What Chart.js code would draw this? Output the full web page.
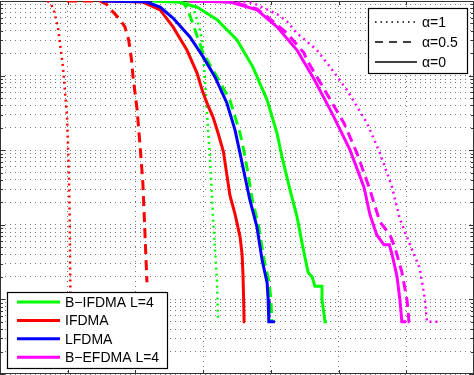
<!DOCTYPE html>
<html><head><meta charset="utf-8">
<script src="https://cdn.jsdelivr.net/npm/chart.js@4"></script>
<style>html,body{margin:0;padding:0;background:#fff}#wrap{position:relative;width:474px;height:375px}</style>
</head><body><div id="wrap"><canvas id="c"></canvas></div>
<script>
// ---- tick values ----
const xTicks = [0, 2, 4, 6, 8, 10, 12, 14];
const yDecades = [1e-5, 1e-4, 1e-3, 1e-2, 1e-1, 1];
// ---- labels ----
const seriesNames = ['B\u2212IFDMA L=4', 'IFDMA', 'LFDMA', 'B\u2212EFDMA L=4'];
const alphaLabels = ['\u03b1=1', '\u03b1=0.5', '\u03b1=0'];

// ---- series values: [PAPR (dB), CCDF] ----
const bifdmaA1 = [[5.35,1],[5.55,0.95],[5.70,0.83],[5.85,0.51],[5.97,0.30],[6.03,0.13],[6.11,0.035],[6.20,0.0081],[6.29,0.0013],[6.41,0.00017],[6.44,0.00005]];
const bifdmaA05 = [[5.3,1],[5.45,0.9],[5.55,0.76],[5.76,0.41],[6.00,0.2],[6.2,0.14],[6.41,0.096],[6.79,0.047],[7.09,0.017],[7.24,0.0081],[7.45,0.0022],[7.65,0.0009],[7.8,0.00034],[7.95,0.00017],[8.0,0.0001],[8.03,0.00005]];
const bifdmaA0 = [[4.5,1],[5.3,0.96],[5.82,0.83],[6.41,0.56],[7.00,0.30],[7.47,0.13],[7.89,0.047],[8.18,0.017],[8.33,0.0081],[8.57,0.0029],[8.77,0.0013],[8.95,0.00049],[9.10,0.00023],[9.22,0.0002],[9.30,0.00015],[9.51,0.00015],[9.51,0.0001],[9.60,0.00005],[9.66,0.00005]];

const ifdmaA1 = [[1.40,1],[1.50,0.93],[1.60,0.72],[1.71,0.45],[1.86,0.13],[1.98,0.028],[2.02,0.008],[2.04,0.0036],[2.06,0.001],[2.07,0.0003],[2.08,0.00012]];
const ifdmaA05 = [[1.98,1],[2.95,1],[3.15,0.9],[3.34,0.71],[3.55,0.56],[3.69,0.45],[3.80,0.30],[3.88,0.17],[3.93,0.096],[4.05,0.035],[4.14,0.011],[4.22,0.0036],[4.28,0.0008],[4.34,0.00017]];
const ifdmaA0 = [[3.0,1],[4.2,0.97],[4.73,0.76],[5.11,0.45],[5.52,0.22],[5.82,0.108],[5.97,0.064],[6.11,0.043],[6.29,0.028],[6.44,0.017],[6.60,0.0095],[6.79,0.0025],[6.94,0.0014],[7.09,0.00069],[7.15,0.0004],[7.18,0.0002],[7.21,0.00005],[7.24,0.00005]];

const lfdma = [[3.0,1],[4.3,0.98],[4.73,0.83],[5.11,0.59],[5.61,0.33],[6.00,0.178],[6.35,0.096],[6.70,0.043],[6.94,0.0187],[7.08,0.0095],[7.38,0.00215],[7.59,0.00093],[7.74,0.00034],[7.89,0.000166],[7.92,0.0001],[7.94,0.00005],[8.12,0.00005]];

const befdmaA1 = [[5.6,1],[7.0,0.99],[7.3,0.97],[7.47,0.94],[8.2,0.66],[8.48,0.53],[8.77,0.37],[9.36,0.22],[9.75,0.13],[10.25,0.064],[10.84,0.023],[11.22,0.0092],[11.58,0.0032],[11.81,0.0012],[12.11,0.00054],[12.40,0.00026],[12.55,0.0001],[12.61,0.00005],[12.95,0.00005]];
const befdmaA05 = [[5.6,1],[6.9,0.97],[7.6,0.78],[8.0,0.56],[8.48,0.37],[8.98,0.2],[9.07,0.16],[9.54,0.07],[10.16,0.023],[10.54,0.0092],[10.90,0.0032],[11.22,0.0011],[11.52,0.00073],[11.67,0.00049],[11.87,0.00023],[12.02,0.0001],[12.08,0.00005],[12.1,0.00005]];
const befdmaA0 = [[5.6,1],[6.8,0.97],[7.59,0.76],[8.18,0.45],[8.77,0.22],[9.24,0.096],[9.75,0.035],[9.86,0.028],[10.34,0.01],[10.75,0.0032],[10.93,0.00135],[11.13,0.00073],[11.34,0.00054],[11.5,0.00054],[11.58,0.0004],[11.72,0.00021],[11.81,0.0001],[11.87,0.00005],[12.0,0.00005]];

// ---- styles ----
const colors = ['#00ff00', '#ff0000', '#0000ff', '#ff00ff'];
const dashStyles = {dot: [2, 4], dash: [10, 6], solid: []};
const FONT = '14px "Liberation Sans", Arial, Helvetica, sans-serif';

const toXY = arr => arr.map(p => ({x: p[0], y: p[1]}));
function ds(data, colorIdx, style, order) {
  return {
    data: toXY(data), borderColor: colors[colorIdx], backgroundColor: colors[colorIdx],
    borderWidth: style === 'dot' ? 2.5 : 3, borderDash: dashStyles[style],
    pointRadius: 0, tension: 0, fill: false, order: order
  };
}

const datasets = [
  ds(bifdmaA1, 0, 'dot', 4), ds(bifdmaA05, 0, 'dash', 4), ds(bifdmaA0, 0, 'solid', 4),
  ds(ifdmaA1, 1, 'dot', 3), ds(ifdmaA05, 1, 'dash', 3), ds(ifdmaA0, 1, 'solid', 3),
  ds(lfdma, 2, 'solid', 2),
  ds(befdmaA1, 3, 'dot', 1), ds(befdmaA05, 3, 'dash', 1), ds(befdmaA0, 3, 'solid', 1)
];

const frame = {
  id: 'frame',
  beforeDatasetsDraw(chart) {
    const {ctx, chartArea: a, scales: {x, y}} = chart;
    ctx.save();
    ctx.strokeStyle = '#333'; ctx.lineWidth = 1; ctx.setLineDash([]);
    ctx.strokeRect(a.left + 0.5, a.top + 0.5, a.right - a.left - 1, a.bottom - a.top - 1);
    ctx.beginPath();
    x.ticks.forEach(t => {
      const px = Math.round(x.getPixelForValue(t.value)) + 0.5;
      ctx.moveTo(px, a.top); ctx.lineTo(px, a.top + 4);
      ctx.moveTo(px, a.bottom); ctx.lineTo(px, a.bottom - 4);
    });
    y.ticks.forEach(t => {
      const py = Math.round(y.getPixelForValue(t.value)) + 0.5;
      const len = t.major ? 5 : 3;
      ctx.moveTo(a.left, py); ctx.lineTo(a.left + len, py);
      ctx.moveTo(a.right, py); ctx.lineTo(a.right - len, py);
    });
    ctx.stroke();
    ctx.restore();
  },
  afterDraw(chart) {
    const {ctx, chartArea: a} = chart;
    ctx.save();
    ctx.font = FONT; ctx.textBaseline = 'middle'; ctx.textAlign = 'left';
    // alpha legend (top right)
    let bx = a.right - 106, by = a.top + 7, bw = 99, bh = 65;
    ctx.fillStyle = '#fff'; ctx.fillRect(bx, by, bw, bh);
    ctx.strokeStyle = '#000'; ctx.lineWidth = 1.2; ctx.setLineDash([]);
    ctx.strokeRect(bx + 0.5, by + 0.5, bw, bh);
    const aDash = [[1.5, 4], [8, 6], []];
    alphaLabels.forEach((lab, i) => {
      const ry = by + 14 + i * 20;
      ctx.beginPath(); ctx.setLineDash(aDash[i]); ctx.lineWidth = i === 0 ? 1.3 : 1.5; ctx.strokeStyle = '#000';
      ctx.moveTo(bx + 7, ry); ctx.lineTo(bx + 49, ry); ctx.stroke();
      ctx.setLineDash([]); ctx.fillStyle = '#000'; ctx.fillText(lab, bx + 54, ry + 1);
    });
    // series legend (bottom left)
    bx = a.left + 7; by = a.bottom - 82; bw = 160; bh = 76;
    ctx.fillStyle = '#fff'; ctx.fillRect(bx, by, bw, bh);
    ctx.strokeStyle = '#000'; ctx.lineWidth = 1.2; ctx.setLineDash([]);
    ctx.strokeRect(bx + 0.5, by + 0.5, bw, bh);
    seriesNames.forEach((lab, i) => {
      const ry = by + 10 + i * 18.4;
      ctx.beginPath(); ctx.lineWidth = 3; ctx.strokeStyle = colors[i];
      ctx.moveTo(bx + 10, ry); ctx.lineTo(bx + 53, ry); ctx.stroke();
      ctx.fillStyle = '#000'; ctx.fillText(lab, bx + 58, ry + 1);
    });
    ctx.restore();
  }
};

new Chart(document.getElementById('c'), {
  type: 'line',
  data: {datasets},
  options: {
    responsive: true, maintainAspectRatio: false, animation: false,
    layout: {padding: {top: 1, bottom: 1, left: 0, right: 0}},
    plugins: {legend: {display: false}, tooltip: {enabled: false}},
    scales: {
      x: {
        type: 'linear', min: xTicks[0], max: xTicks[xTicks.length - 1],
        afterBuildTicks: s => { s.ticks = xTicks.map(v => ({value: v})); },
        ticks: {display: false},
        grid: {color: 'rgba(95,95,95,0.85)', lineWidth: 1, drawTicks: false},
        border: {display: false, dash: [1, 4]}
      },
      y: {
        type: 'logarithmic', min: yDecades[0], max: yDecades[yDecades.length - 1],
        afterBuildTicks: s => {
          const t = [];
          for (let i = 0; i < yDecades.length - 1; i++)
            for (let m = 1; m <= 9; m++) t.push({value: yDecades[i] * m, major: m === 1});
          t.push({value: yDecades[yDecades.length - 1], major: true});
          s.ticks = t;
        },
        ticks: {display: false},
        grid: {color: 'rgba(95,95,95,0.85)', lineWidth: 1, drawTicks: false},
        border: {display: false, dash: [1, 4]}
      }
    }
  },
  plugins: [frame]
});
</script>
</body></html>
